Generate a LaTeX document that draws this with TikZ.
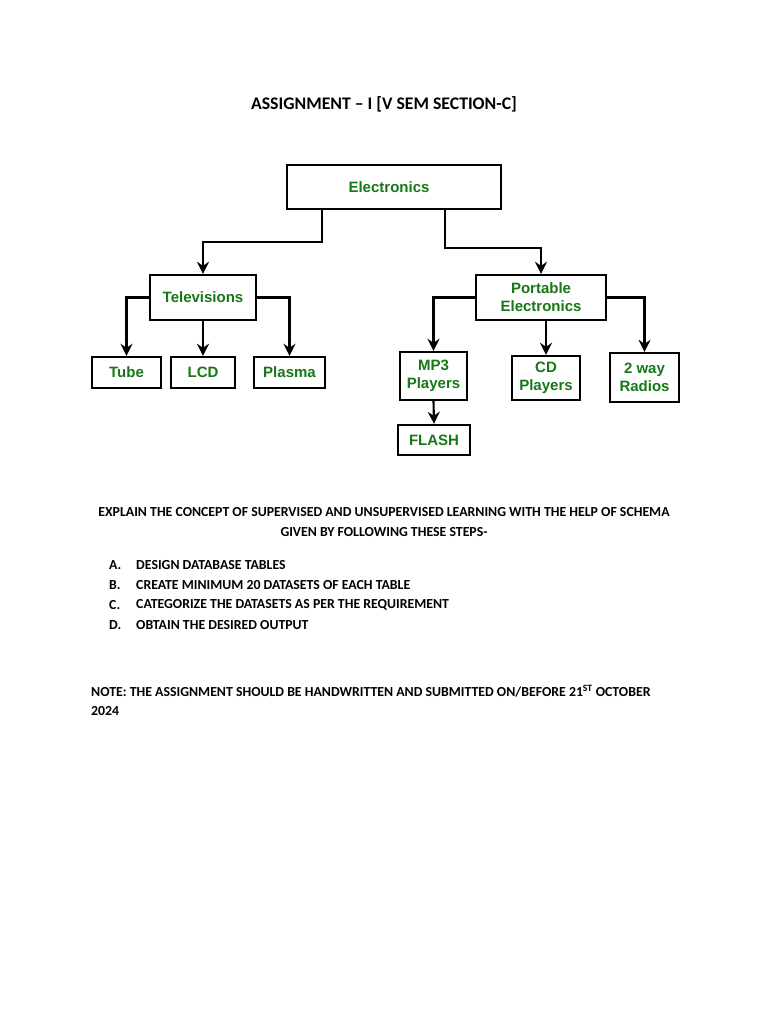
\documentclass[tikz,border=0pt]{standalone}
\usepackage{fontspec}
\setmainfont{Carlito}
\newfontfamily\arialfont{Liberation Sans}
\usetikzlibrary{arrows.meta}
\definecolor{boxgreen}{RGB}{22,120,22}
\begin{document}
\begin{tikzpicture}[x=1pt,y=-1pt,
  box/.style={draw=black,line width=2.4pt,fill=white,inner sep=0pt,text=boxgreen,font=\arialfont\bfseries\fontsize{15}{18}\selectfont,align=center},
  conn/.style={draw=black,line width=2.1pt,-{Stealth[length=12pt,width=12pt,inset=4pt]}},
  txt/.style={font=\bfseries\fontsize{13.8}{16}\selectfont,inner sep=0pt}]
\useasboundingbox (0,0) rectangle (768,1024);
\fill[white] (0,0) rectangle (768,1024);
% title
\node[font=\bfseries\fontsize{17.7}{21}\selectfont,inner sep=0pt] (title) at (384,104) {ASSIGNMENT – I [V SEM SECTION-C]};
% boxes
\node[box,minimum width=214pt,minimum height=44pt] (elec) at (394,187) {\hspace*{-10pt}Electronics};
\node[box,minimum width=106pt,minimum height=45pt] (tv) at (203,297.5) {Televisions};
\node[box,minimum width=130pt,minimum height=45pt] (port) at (541,297.5) {Portable\\Electronics};
\node[box,minimum width=69pt,minimum height=31pt] (tube) at (126.5,372.5) {Tube};
\node[box,minimum width=64pt,minimum height=31pt] (lcd) at (203,372.5) {LCD};
\node[box,minimum width=71pt,minimum height=31pt] (plasma) at (289.5,372.5) {Plasma};
\node[box,minimum width=67pt,minimum height=48pt] (mp3) at (433.5,376) {MP3\\Players};
\node[box,minimum width=68pt,minimum height=44pt] (cd) at (546,378) {CD\\Players};
\node[box,minimum width=69pt,minimum height=49pt] (radio) at (644.5,377.5) {2 way\\Radios};
\node[box,minimum width=72pt,minimum height=30pt] (flash) at (434,440) {FLASH};
% connectors
\coordinate (e1) at (322,209);
\coordinate (e2) at (445,209);
\draw[conn] (e1) -- (322,242) -| (tv.north);
\draw[conn] (e2) -- (445,248) -| (port.north);
\draw[conn] (tv.west) -| (tube.north);
\draw[conn] (tv.south) -- (lcd.north);
\draw[conn] (tv.east) -| (plasma.north);
\draw[conn] (port.west) -| (mp3.north);
\draw[conn] (port.south -| cd.north) -- (cd.north);
\draw[conn] (port.east) -| (radio.north);
\draw[conn] (mp3.south) -- (flash.north);
% text
\node[txt] (q1) at (384,512) {EXPLAIN THE CONCEPT OF SUPERVISED AND UNSUPERVISED LEARNING WITH THE HELP OF SCHEMA};
\node[txt] (q2) at (384,532) {GIVEN BY FOLLOWING THESE STEPS-};
\node[txt,anchor=west] (la) at (109,565) {A.};
\node[txt,anchor=west] (ta) at (136,565) {DESIGN DATABASE TABLES};
\node[txt,anchor=west] (lb) at (109,585) {B.};
\node[txt,anchor=west] (tb) at (136,585) {CREATE MINIMUM 20 DATASETS OF EACH TABLE};
\node[txt,anchor=west] (lc) at (109,605) {C.};
\node[txt,anchor=west] (tc) at (136,605) {CATEGORIZE THE DATASETS AS PER THE REQUIREMENT};
\node[txt,anchor=west] (ld) at (109,625) {D.};
\node[txt,anchor=west] (td) at (136,625) {OBTAIN THE DESIRED OUTPUT};
\node[txt,anchor=west] (n1) at (91,691) {NOTE: THE ASSIGNMENT SHOULD BE HANDWRITTEN AND SUBMITTED ON/BEFORE 21\textsuperscript{ST} OCTOBER};
\node[txt,anchor=west] (n2) at (91,711) {2024};
\end{tikzpicture}
\end{document}
